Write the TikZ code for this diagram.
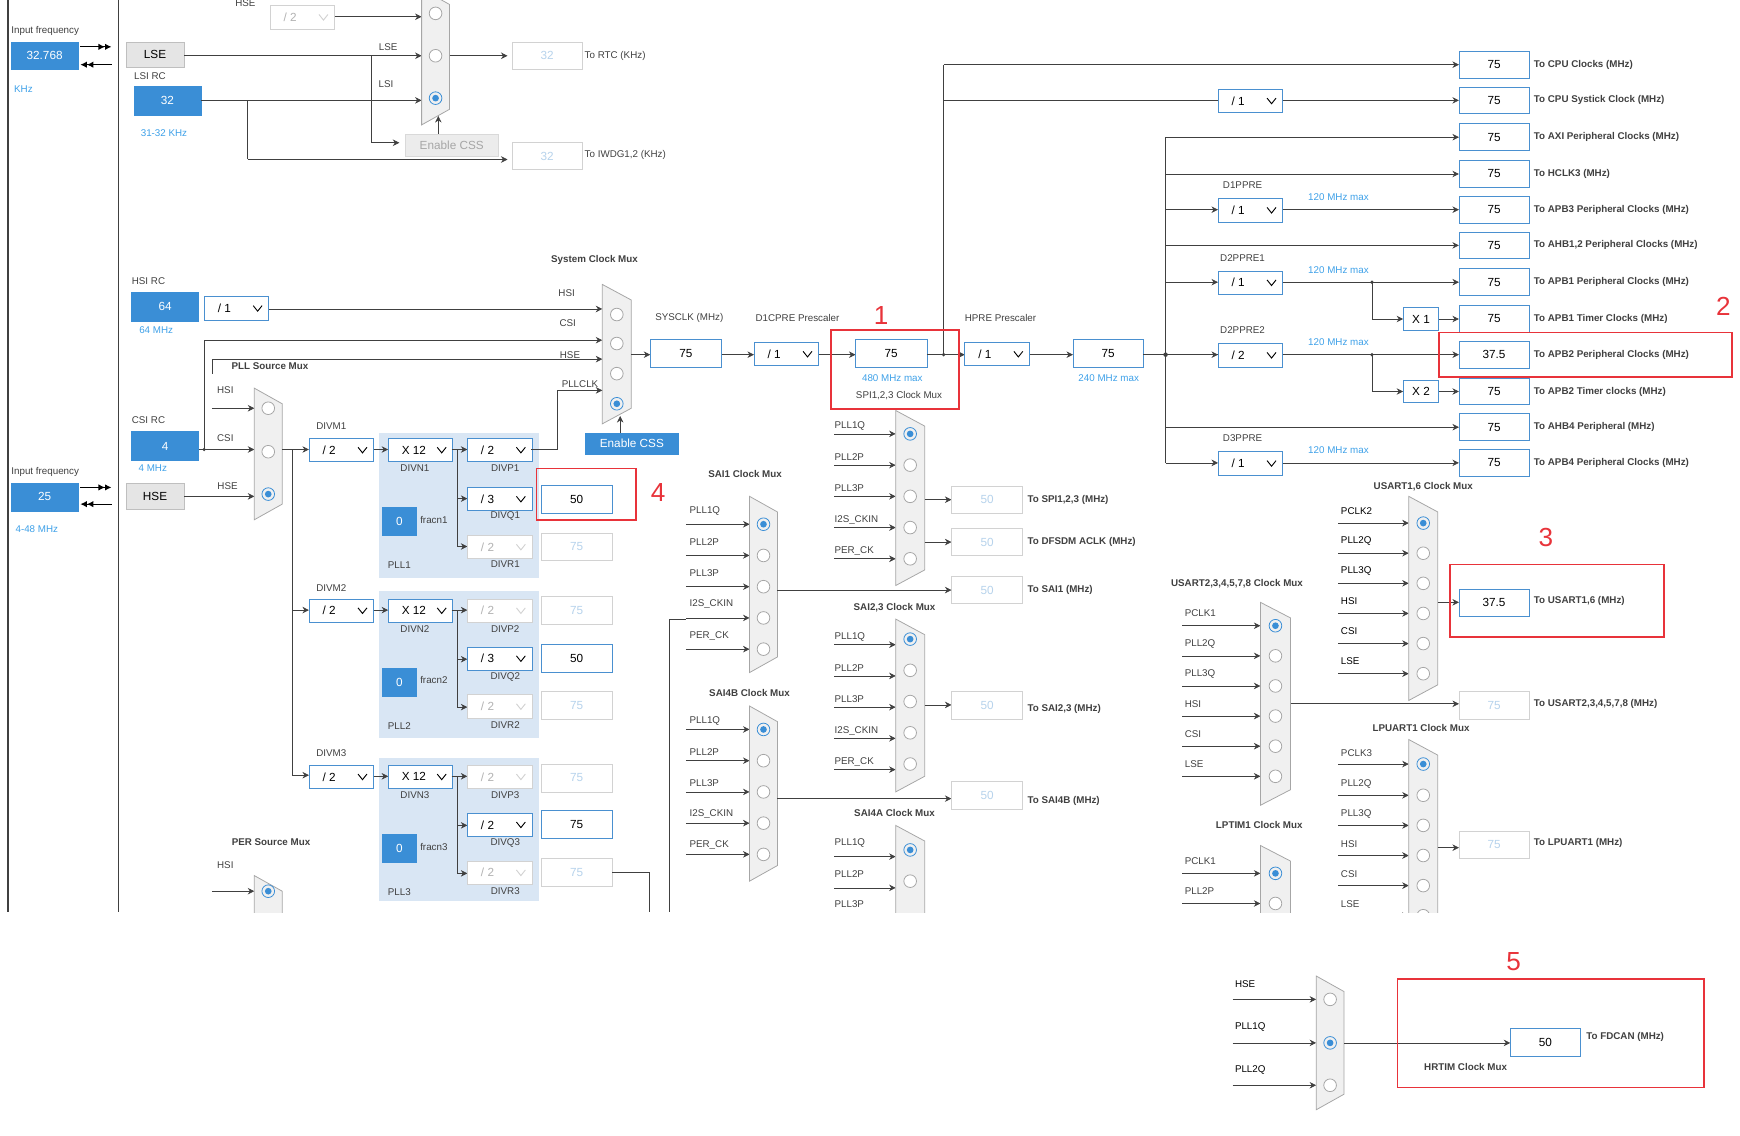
\documentclass[tikz,border=0pt]{standalone}
\usepackage{fontspec}
\setmainfont{Liberation Sans}
\usetikzlibrary{arrows.meta}
\definecolor{bfill}{HTML}{3A8ED6}
\definecolor{bdr}{HTML}{4A90D0}
\definecolor{ltb}{HTML}{3DA0E8}
\definecolor{reg}{HTML}{D9E6F4}
\definecolor{rd}{HTML}{E8333A}
\definecolor{tx}{HTML}{404040}
\tikzset{
 lb/.style={font=\fontsize{7.5}{8}\selectfont,text=tx,inner sep=0pt},
 lbb/.style={lb,text=ltb},
 boxtxt/.style={font=\fontsize{9}{10}\selectfont,inner sep=0pt},
 val/.style={draw=bdr,fill=white,line width=0.6pt}, val-t/.style={text=black},
 gv/.style={draw=gray!35,fill=white,line width=0.6pt}, gv-t/.style={text=bdr!40},
 blu/.style={draw=bfill,fill=bfill}, blu-t/.style={text=white},
 gry/.style={draw=gray!50,fill=gray!20}, gry-t/.style={text=black},
 gryd/.style={draw=gray!30,fill=gray!15}, gryd-t/.style={text=gray!70},
 ddb/.style={draw=bdr,fill=white,line width=0.6pt},
 ddt/.style={font=\fontsize{9}{10}\selectfont,inner sep=0pt},
 dd/.style={}, dd-t/.style={text=black},
 dg/.style={draw=gray!35}, dg-t/.style={text=gray!60},
 chev/.style={line width=0.7pt},
 muxs/.style={draw=gray!70,fill=gray!12,line width=0.6pt},
 muxc/.style={draw=gray!70,fill=white,line width=0.6pt},
 ar/.style={-{Stealth[length=5pt,width=5pt]},line width=0.5pt,draw=tx},
 ln/.style={line width=0.5pt,draw=tx},
 redb/.style={draw=rd,line width=1.3pt},
 rnum/.style={text=rd,font=\fontsize{20}{22}\selectfont},
 ttl/.style={lb,font=\fontsize{7.5}{8}\bfseries}
}
\newcommand\BX[6][val]{\draw[#1] (#2,#3) rectangle (#4,#5); \node[boxtxt,#1-t] at ({(#2+#4)/2},{(#3+#5)/2}) {#6};}
\newcommand\DD[4][dd]{\draw[ddb,#1] (#2,#3) rectangle ++(58,21); \node[ddt,#1-t,anchor=west] at (#2+12,#3+10.5) {#4}; \draw[chev,draw=black,#1,#1-t] (#2+44,#3+8) -- (#2+48,#3+13) -- (#2+52,#3+8);}
\newcommand\MUX[6]{\draw[muxs] (#1,#3) -- (#2,#3+14) -- (#2,#4-14) -- (#1,#4) -- cycle;
 \foreach \c in {#5} \draw[muxc] ({(#1+#2)/2},\c) circle[radius=1.7mm];
 \fill[bfill] ({(#1+#2)/2},#6) circle[radius=0.9mm];
 \draw[bfill,line width=0.6pt] ({(#1+#2)/2},#6) circle[radius=1.7mm];}
\begin{document}
\begin{tikzpicture}[x=0.03cm,y=-0.03cm]
\useasboundingbox (0,0) rectangle (1560,1018);
\begin{scope}
\clip (0,0) rectangle (1560,818);
\draw[line width=2pt,tx] (7,0) -- (7,818);
\draw[line width=0.6pt,tx] (106,0) -- (106,818);
\node[lb,anchor=west] at (10,28) {Input frequency};
\BX[blu]{10}{38}{70}{62}{32.768}
\node[lbb] at (21,80) {KHz};
\draw[{Latex[length=5pt,width=5pt]Latex[length=5pt,width=5pt]}-,line width=1pt] (72,58) -- (100,58);
\draw[-{Latex[length=5pt,width=5pt]Latex[length=5pt,width=5pt]},line width=1pt] (72,42) -- (100,42);
\BX[gry]{113}{38}{165}{60}{LSE}
\node[lb,anchor=west] at (120,68) {LSI RC};
\BX[blu]{120}{77}{180}{103}{32}
\node[lbb] at (147,119) {31-32 KHz};
\node[lb] at (220,3) {HSE};
\DD[dg]{242}{5}{/ 2}
\node[lb] at (348,42) {LSE};
\node[lb] at (346,75) {LSI};
\draw[ar] (165,50) -- (378,50);
\draw[ar] (180,90) -- (378,90);
\draw[ln] (333,50) -- (333,128); \draw[ar] (333,128) -- (358,128);
\draw[ln] (222,90) -- (222,143); \draw[ar] (222,143) -- (455,143);
\draw[ar] (300,15) -- (378,15);
\BX[gryd]{363}{120}{447}{140}{Enable CSS}
\MUX{378}{403}{-10}{112}{12,50}{88}
\draw[ar] (393,120) -- (393,104);
\draw[ar] (403,50) -- (455,50);
\BX[gv]{459}{38}{522}{62}{32}
\node[lb,anchor=west] at (524,50) {To RTC (KHz)};
\BX[gv]{459}{128}{522}{152}{32}
\node[lb,anchor=west] at (524,139) {To IWDG1,2 (KHz)};
\node[lb,anchor=west] at (118,252) {HSI RC};
\BX[blu]{118}{262}{178}{288}{64}
\node[lbb] at (140,296) {64 MHz};
\DD{183}{266}{/ 1}
\draw[ar] (241,277) -- (540,277);
\node[lb,anchor=west] at (118,377) {CSI RC};
\BX[blu]{118}{387}{178}{413}{4}
\node[lbb] at (137,420) {4 MHz};
\draw[ln] (178,403) -- (183,403) -- (183,305); \draw[ar] (183,305) -- (540,305);
\fill[tx] (183,403) circle[radius=0.5mm];
\node[lb,anchor=west] at (10,423) {Input frequency};
\BX[blu]{10}{433}{70}{458}{25}
\node[lbb] at (33,474) {4-48 MHz};
\draw[-{Latex[length=5pt,width=5pt]Latex[length=5pt,width=5pt]},line width=1pt] (72,437) -- (100,437);
\draw[{Latex[length=5pt,width=5pt]Latex[length=5pt,width=5pt]}-,line width=1pt] (72,452) -- (100,452);
\BX[gry]{113}{433}{165}{457}{HSE}
\draw[ln] (190,322) -- (190,335); \draw[ar] (190,322) -- (540,322);
\node[lb] at (508,263) {HSI};
\node[lb] at (509,290) {CSI};
\node[lb] at (511,318) {HSE};
\node[lb] at (520,344) {PLLCLK};
\node[ttl] at (533,233) {System Clock Mux};
\MUX{540}{566}{255}{380}{282,308,335}{362}
\BX[blu]{525}{388}{608}{407}{Enable CSS}
\draw[ar] (556,388) -- (556,373);
\node[ttl] at (242,328) {PLL Source Mux};
\node[lb] at (202,350) {HSI}; \node[lb] at (202,393) {CSI}; \node[lb] at (204,436) {HSE};
\draw[ar] (190,366) -- (228,366);
\draw[ar] (183,403) -- (228,403);
\draw[ar] (165,445) -- (228,445);
\MUX{228}{253}{348}{466}{366,405}{443}
\draw[ar] (253,403) -- (277,403);
\draw[ln] (262,403) -- (262,695);
\draw[ar] (262,547) -- (277,547);
\draw[ar] (262,695) -- (277,695);
\node[lb] at (297,382) {DIVM1}; \node[lb] at (297,527) {DIVM2}; \node[lb] at (297,675) {DIVM3};
\DD{277}{393}{/ 2}\DD{277}{537}{/ 2}\DD{277}{686}{/ 2}
\fill[reg] (340,388) rectangle (483,518);
\fill[reg] (340,530) rectangle (483,662);
\fill[reg] (340,680) rectangle (483,808);
\foreach \t/\n in {393/1,537/2,686/3}{
 \draw[ar] (335,\t+10) -- (348,\t+10);
 \DD{348}{\t}{X 12}
 \node[lb] at (372,\t+27) {DIVN\n};
 \draw[ar] (405,\t+10) -- (419,\t+10);
 \draw[ln] (410,\t+10) -- (410,\t+97);
 \draw[ar] (410,\t+54) -- (419,\t+54);
 \draw[ar] (410,\t+97) -- (419,\t+97);
 \node[lb] at (453,\t+27) {DIVP\n};
 \node[lb] at (453,\t+70) {DIVQ\n};
 \node[lb] at (453,\t+113) {DIVR\n};
 \BX[blu]{343}{\t+62}{373}{\t+87}{0}
 \node[lb] at (389,\t+73) {fracn\n};
 \node[lb] at (358,\t+114) {PLL\n};
}
\DD{419}{393}{/ 2}\DD{419}{437}{/ 3}\DD[dg]{419}{480}{/ 2}
\DD[dg]{419}{537}{/ 2}\DD{419}{580}{/ 3}\DD[dg]{419}{623}{/ 2}
\DD[dg]{419}{686}{/ 2}\DD{419}{729}{/ 2}\DD[dg]{419}{772}{/ 2}
\draw[ln] (476,403) -- (500,403) -- (500,350); \draw[ar] (500,350) -- (540,350);
\BX{485}{435}{549}{460}{50}
\BX[gv]{485}{478}{549}{502}{75}
\BX[gv]{485}{535}{549}{560}{75}
\BX{485}{578}{549}{603}{50}
\BX[gv]{485}{620}{549}{645}{75}
\BX[gv]{485}{685}{549}{710}{75}
\BX{485}{727}{549}{752}{75}
\BX[gv]{485}{770}{549}{795}{75}
\draw[ln] (549,782) -- (582,782) -- (582,818);
\node[ttl] at (243,755) {PER Source Mux};
\node[lb] at (202,776) {HSI};
\draw[ar] (190,799) -- (228,799);
\MUX{228}{253}{785}{900}{830}{799}
\draw[ar] (566,318) -- (583,318);
\node[lb] at (618,285) {SYSCLK (MHz)};
\BX{583}{304}{647}{329}{75}
\draw[ar] (647,318) -- (676,318);
\node[lb] at (715,285) {D1CPRE Prescaler};
\DD{676}{307}{/ 1}
\draw[ar] (734,318) -- (767,318);
\BX{767}{304}{831}{329}{75}
\node[lbb] at (800,339) {480 MHz max};
\node[lb] at (806,355) {SPI1,2,3 Clock Mux};
\draw[ar] (831,318) -- (865,318);
\fill[tx] (846,318) circle[radius=0.5mm];
\node[lb] at (897,285) {HPRE Prescaler};
\DD{865}{307}{/ 1}
\draw[ar] (923,318) -- (962,318);
\BX{962}{304}{1025}{329}{75}
\node[lbb] at (994,339) {240 MHz max};
\draw[ln] (1025,318) -- (1092,318);
\fill[tx] (1045,318) circle[radius=0.6mm];
\draw[ln] (846,318) -- (846,58);
\draw[ar] (846,58) -- (1308,58);
\draw[ln] (846,90) -- (1092,90);
\draw[ln] (1045,123) -- (1045,415);
\foreach \y/\v/\t in {58/75/To CPU Clocks (MHz),90/75/To CPU Systick Clock (MHz),123/75/To AXI Peripheral Clocks (MHz),156/75/To HCLK3 (MHz),188/75/To APB3 Peripheral Clocks (MHz),220/75/To AHB1{,}2 Peripheral Clocks (MHz),253/75/To APB1 Peripheral Clocks (MHz),286/75/To APB1 Timer Clocks (MHz),318/37.5/To APB2 Peripheral Clocks (MHz),351/75/To APB2 Timer clocks (MHz),383/75/To AHB4 Peripheral (MHz),415/75/To APB4 Peripheral Clocks (MHz)}{
 \BX{1308}{\y-12}{1371}{\y+12}{\v}
 \node[ttl,anchor=west] at (1375,\y) {\t};
}
\foreach \y in {123,156,220,383}{\draw[ar] (1045,\y) -- (1308,\y);}
\foreach \y/\d/\n in {188/1/D1PPRE,253/1/D2PPRE1,318/2/D2PPRE2,415/1/D3PPRE}{
 \draw[ar] (1045,\y) -- (1092,\y);
 \DD{1092}{\y-10}{/ \d}
 \draw[ar] (1150,\y) -- (1308,\y);
 \node[lb] at (1114,\y-22) {\n};
 \node[lbb] at (1200,\y-11) {120 MHz max};
}
\DD{1092}{80}{/ 1}
\draw[ar] (1150,90) -- (1308,90);
\draw[ln] (1230,253) -- (1230,286); \draw[ar] (1230,286) -- (1258,286);
\fill[tx] (1230,253) circle[radius=0.5mm];
\draw[ln] (1230,318) -- (1230,351); \draw[ar] (1230,351) -- (1258,351);
\fill[tx] (1230,318) circle[radius=0.5mm];
\BX{1258}{276}{1290}{296}{X 1}
\BX{1258}{341}{1290}{361}{X 2}
\draw[ar] (1290,286) -- (1308,286);
\draw[ar] (1290,351) -- (1308,351);
\foreach \y/\t in {389/PLL1Q,417/PLL2P,445/PLL3P,473/I2S\_CKIN,501/PER\_CK}{\node[lb,anchor=west] at (748,\y-7) {\t}; \draw[ar] (748,\y) -- (803,\y);}
\MUX{803}{829}{368}{525}{417,445,473,501}{389}
\draw[ar] (829,448) -- (853,448);
\draw[ar] (829,486) -- (853,486);
\BX[gv]{853}{436}{917}{460}{50}\node[ttl,anchor=west] at (921,448) {To SPI1,2,3 (MHz)};
\BX[gv]{853}{474}{917}{498}{50}\node[ttl,anchor=west] at (921,486) {To DFSDM ACLK (MHz)};
\BX[gv]{853}{517}{917}{541}{50}\node[ttl,anchor=west] at (921,529) {To SAI1 (MHz)};
\node[ttl] at (668,425) {SAI1 Clock Mux};
\foreach \y/\t in {470/PLL1Q,498/PLL2P,526/PLL3P,554/I2S\_CKIN,582/PER\_CK}{\node[lb,anchor=west] at (618,\y-12) {\t}; \draw[ar] (615,\y) -- (672,\y);}
\MUX{672}{697}{445}{603}{498,526,554,582}{470}
\draw[ar] (697,529) -- (853,529);
\node[ttl] at (802,545) {SAI2,3 Clock Mux};
\foreach \y/\t in {573/PLL1Q,601/PLL2P,629/PLL3P,657/I2S\_CKIN,685/PER\_CK}{\node[lb,anchor=west] at (748,\y-2) {\t}; \draw[ar] (748,\y+5) -- (803,\y+5);}
\MUX{803}{829}{555}{710}{601,629,657,685}{573}
\draw[ar] (829,632) -- (853,632);
\BX[gv]{853}{620}{917}{645}{50}\node[ttl,anchor=west] at (921,636) {To SAI2,3 (MHz)};
\node[ttl] at (672,621) {SAI4B Clock Mux};
\foreach \y/\t in {654/PLL1Q,682/PLL2P,710/PLL3P,738/I2S\_CKIN,766/PER\_CK}{\node[lb,anchor=west] at (618,\y-8) {\t}; \draw[ar] (615,\y) -- (672,\y);}
\MUX{672}{697}{633}{790}{682,710,738,766}{654}
\draw[ar] (697,716) -- (853,716);
\BX[gv]{853}{701}{917}{726}{50}\node[ttl,anchor=west] at (921,718) {To SAI4B (MHz)};
\draw[ln] (600,555) -- (600,818); \draw[ln] (600,555) -- (615,555);
\node[ttl] at (802,729) {SAI4A Clock Mux};
\foreach \y/\t in {762/PLL1Q,790/PLL2P,817/PLL3P}{\node[lb,anchor=west] at (748,\y-6) {\t}; \draw[ar] (748,\y+6) -- (803,\y+6);}
\MUX{803}{829}{740}{900}{790}{762}
\node[ttl] at (1276,436) {USART1,6 Clock Mux};
\foreach \y/\t in {469/PCLK2,496/PLL2Q,523/PLL3Q,550/HSI,577/CSI,604/LSE}{\node[lb,anchor=west,text=black] at (1202,\y-11) {\t}; \draw[ar] (1200,\y) -- (1263,\y);}
\MUX{1263}{1289}{445}{628}{496,523,550,577,604}{469}
\draw[ar] (1289,540) -- (1308,540);
\BX{1308}{528}{1371}{553}{37.5}\node[ttl,anchor=west] at (1375,539) {To USART1,6 (MHz)};
\node[ttl] at (1109,523) {USART2,3,4,5,7,8 Clock Mux};
\foreach \y/\t in {561/PCLK1,588/PLL2Q,615/PLL3Q,642/HSI,669/CSI,696/LSE}{\node[lb,anchor=west] at (1062,\y-11) {\t}; \draw[ar] (1060,\y) -- (1130,\y);}
\MUX{1130}{1157}{540}{722}{588,615,642,669,696}{561}
\draw[ar] (1157,631) -- (1308,631);
\BX[gv]{1308}{620}{1371}{645}{75}\node[ttl,anchor=west] at (1375,631) {To USART2,3,4,5,7,8 (MHz)};
\node[ttl] at (1274,653) {LPUART1 Clock Mux};
\foreach \y/\t in {685/PCLK3,713/PLL2Q,740/PLL3Q,767/HSI,794/CSI,821/LSE}{\node[lb,anchor=west] at (1202,\y-10) {\t}; \draw[ar] (1200,\y) -- (1263,\y);}
\MUX{1263}{1289}{663}{860}{713,740,767,794,821}{685}
\draw[ar] (1289,760) -- (1308,760);
\BX[gv]{1308}{745}{1371}{770}{75}\node[ttl,anchor=west] at (1375,756) {To LPUART1 (MHz)};
\node[ttl] at (1129,740) {LPTIM1 Clock Mux};
\foreach \y/\t in {783/PCLK1,810/PLL2P}{\node[lb,anchor=west] at (1062,\y-11) {\t}; \draw[ar] (1060,\y) -- (1130,\y);}
\MUX{1130}{1157}{758}{900}{810}{783}
\end{scope}
\draw[redb] (745,296) rectangle (860,367); \node[rnum] at (790,283) {1};
\draw[redb] (1290,298) rectangle (1553,338); \node[rnum] at (1545,275) {2};
\draw[redb] (1300,506) rectangle (1492,571); \node[rnum] at (1386,482) {3};
\draw[redb] (481,420) rectangle (570,466); \node[rnum] at (590,442) {4};
\foreach \y/\t in {896/HSE,935/PLL1Q,973/PLL2Q}{\node[lb,anchor=west,text=black] at (1107,\y-14) {\t}; \draw[ar] (1105,\y) -- (1180,\y);}
\MUX{1180}{1205}{875}{995}{896,973}{935}
\draw[ar] (1205,935) -- (1354,935);
\BX{1354}{922}{1417}{947}{50}
\node[ttl,anchor=west] at (1422,930) {To FDCAN (MHz)};
\node[ttl] at (1314,957) {HRTIM Clock Mux};
\draw[redb] (1253,878) rectangle (1528,975); \node[rnum] at (1357,862) {5};
\end{tikzpicture}
\end{document}
